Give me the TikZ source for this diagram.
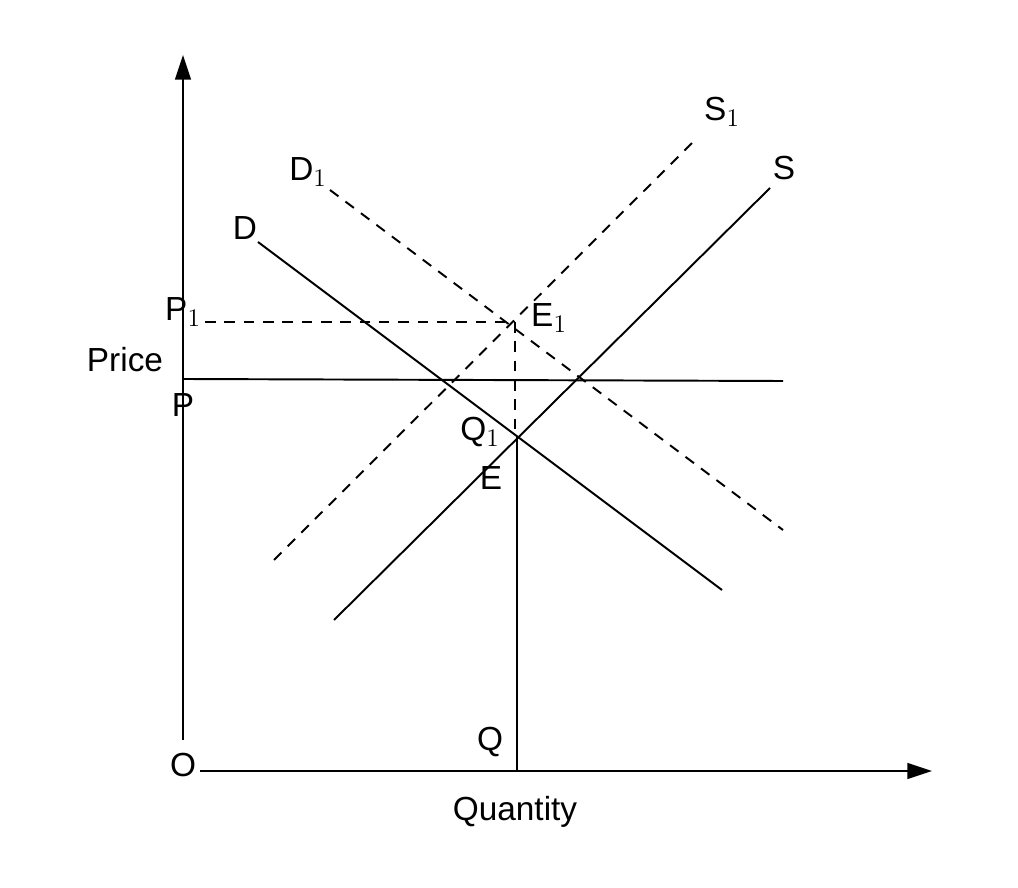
\documentclass[tikz,border=0pt]{standalone}
\usepackage{fontspec}
\setmainfont{Liberation Sans}
\usetikzlibrary{arrows.meta}
\begin{document}
\begin{tikzpicture}[x=0.02cm,y=-0.02cm,line width=1.1pt,
  lab/.style={font=\fontsize{19}{22}\selectfont,inner sep=0pt},
  dsh/.style={dash pattern=on 6pt off 5pt}]
\useasboundingbox (0,0) rectangle (1018,888);
\coordinate (O) at (183,771);
\coordinate (Ytop) at (183,55);
\coordinate (Xend) at (932,771);
\draw[-{Triangle[length=14pt,width=9pt]}] (183,740) -- (Ytop);
\draw[-{Triangle[length=14pt,width=9pt]}] (200,771) -- (Xend);
\coordinate (d0) at (258,242); \coordinate (d1) at (722,590);
\coordinate (dd0) at (330,190); \coordinate (dd1) at (783,530);
\coordinate (s0) at (334,620); \coordinate (s1) at (770,188);
\coordinate (ss0) at (274,560); \coordinate (ss1) at (695,140);
\draw (d0) -- (d1);
\draw (s0) -- (s1);
\draw[dsh] (dd0) -- (dd1);
\draw[dsh] (ss0) -- (ss1);
\coordinate (ph0) at (183,379); \coordinate (ph1) at (783,381);
\draw (ph0) -- (ph1);
\coordinate (p10) at (205,322); \coordinate (e1) at (515,322);
\draw[dsh] (p10) -- (e1);
\coordinate (e) at (517,436); \coordinate (q) at (517,771);
\draw[dsh] (e1) -- (515,436);
\draw (e) -- (q);
\node[lab] (nS1) at (722,112) {S$_1$};
\node[lab] (nS) at (784,168) {S};
\node[lab] (nD1) at (308,172) {D$_1$};
\node[lab] (nD) at (245,228) {D};
\node[lab] (nP1) at (183,312) {P$_1$};
\node[lab] (nE1) at (549,318) {E$_1$};
\node[lab] (nPrice) at (125,360) {Price};
\node[lab] (nP) at (183,405) {P};
\node[lab] (nQ1) at (480,432) {Q$_1$};
\node[lab] (nE) at (491,478) {E};
\node[lab] (nQ) at (490,742) {Q};
\node[lab] (nO) at (183,765) {O};
\node[lab] (nQty) at (515,812) {Quantity};
\end{tikzpicture}
\end{document}
